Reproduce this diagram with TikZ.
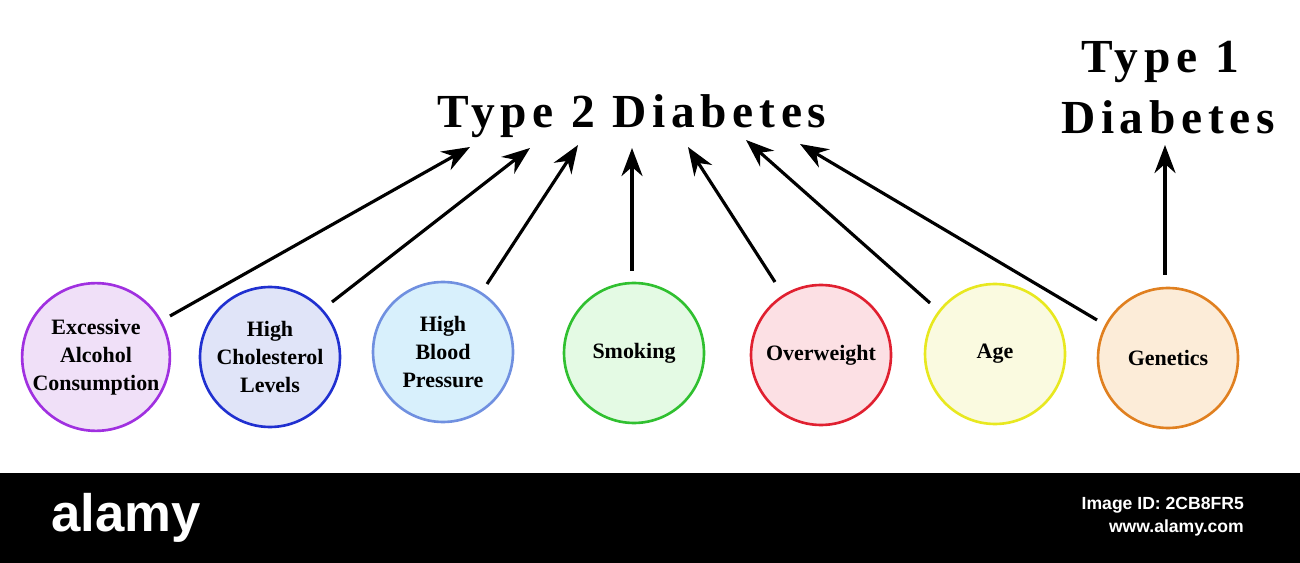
\documentclass[tikz,border=0pt]{standalone}
\usepackage{fontspec}
\setmainfont{Liberation Serif}
\newfontfamily\titlefont[LetterSpace=12]{Liberation Serif}
\newfontfamily\wmfont{Liberation Sans}
\usetikzlibrary{arrows.meta}
\definecolor{c1b}{HTML}{A030E0}\definecolor{c1f}{HTML}{F0E0F8}
\definecolor{c2b}{HTML}{2030D0}\definecolor{c2f}{HTML}{E0E4F8}
\definecolor{c3b}{HTML}{7090E0}\definecolor{c3f}{HTML}{D8F0FC}
\definecolor{c4b}{HTML}{30C030}\definecolor{c4f}{HTML}{E4FAE4}
\definecolor{c5b}{HTML}{E02030}\definecolor{c5f}{HTML}{FCE0E4}
\definecolor{c6b}{HTML}{E8E820}\definecolor{c6f}{HTML}{FAFAE0}
\definecolor{c7b}{HTML}{E08020}\definecolor{c7f}{HTML}{FCECD8}
\begin{document}
\begin{tikzpicture}[x=0.02cm,y=-0.02cm,
  factor/.style={circle,minimum size=2.8cm,line width=1.5pt,align=center,inner sep=0pt,
    font=\fontsize{12.5}{16}\selectfont\bfseries},
  arr/.style={line width=1.8pt,-{Stealth[length=16pt,width=12pt]},shorten <=0pt},
  ttl/.style={font=\titlefont\fontsize{27}{34}\selectfont\bfseries,align=center}]
\useasboundingbox (0,0) rectangle (1300,563);
\fill[black] (0,473) rectangle (1300,563);
\node[font=\wmfont\bfseries\fontsize{30}{30}\selectfont,text=white,anchor=west] (wm) at (45,518) {alamy};
\node[font=\wmfont\bfseries\fontsize{10}{12}\selectfont,text=white,anchor=east] (id) at (1250,505) {Image ID: 2CB8FR5};
\node[font=\wmfont\bfseries\fontsize{10}{12}\selectfont,text=white,anchor=east] (url) at (1250,528) {www.alamy.com};
\node[ttl] (t2) at (632,116) {Type 2 Diabetes};
\node[ttl] (t1a) at (1160,62) {Type 1};
\node[ttl] (t1b) at (1168,117) {Diabetes};
\node[factor,draw=c1b,fill=c1f] (f1) at (96,357) {Excessive\\Alcohol\\Consumption};
\node[factor,draw=c2b,fill=c2f] (f2) at (270,357) {High\\Cholesterol\\Levels};
\node[factor,draw=c3b,fill=c3f] (f3) at (443,352) {High\\Blood\\Pressure};
\node[factor,draw=c4b,fill=c4f] (f4) at (634,353) {Smoking};
\node[factor,draw=c5b,fill=c5f] (f5) at (821,355) {Overweight};
\node[factor,draw=c6b,fill=c6f] (f6) at (995,354) {Age};
\node[factor,draw=c7b,fill=c7f] (f7) at (1168,358) {Genetics};
\coordinate (a1s) at (170,316); \coordinate (a1e) at (470,147);
\coordinate (a2s) at (332,302); \coordinate (a2e) at (530,148);
\coordinate (a3s) at (487,284); \coordinate (a3e) at (578,145);
\coordinate (a4s) at (632,271); \coordinate (a4e) at (632,148);
\coordinate (a5s) at (775,282); \coordinate (a5e) at (688,147);
\coordinate (a6s) at (930,303); \coordinate (a6e) at (746,140);
\coordinate (a7s) at (1097,320); \coordinate (a7e) at (800,144);
\coordinate (a8s) at (1165,275); \coordinate (a8e) at (1165,145);
\foreach \i in {1,...,8} \draw[arr] (a\i s) -- (a\i e);
\end{tikzpicture}
\end{document}
